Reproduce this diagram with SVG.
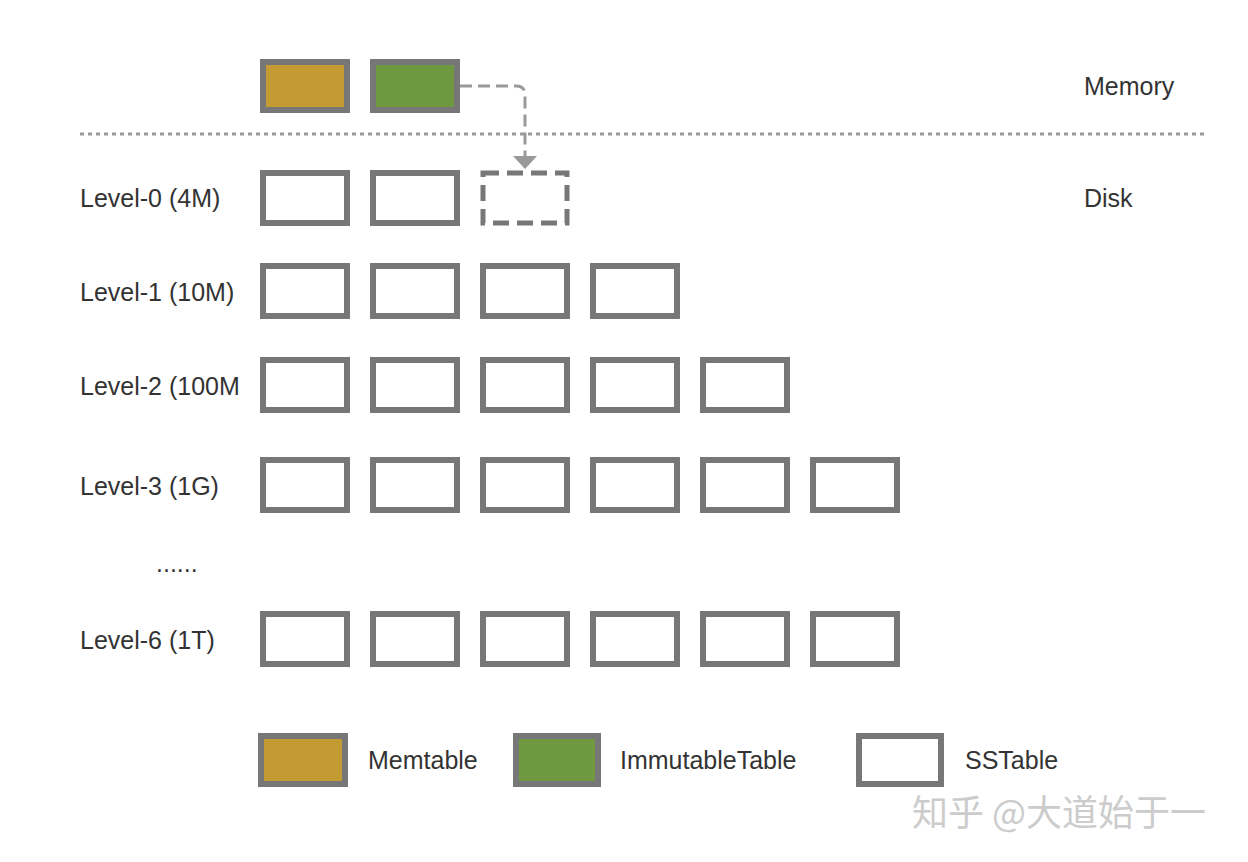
<svg xmlns="http://www.w3.org/2000/svg" width="1248" height="862" viewBox="0 0 1248 862">
<style>
.b{fill:#fff;stroke:#777;stroke-width:6}
.m{fill:#c49a33;stroke:#777;stroke-width:6}
.i{fill:#6f9940;stroke:#777;stroke-width:6}
text{font-family:"Liberation Sans",Arial,sans-serif;font-size:25px;fill:#333}
</style>
<defs><marker id="ah" markerWidth="8" markerHeight="6" refX="4" refY="0" orient="auto" markerUnits="userSpaceOnUse" viewBox="0 0 8 6"><path d="M0,0 L8,0 L4,6 z" fill="#999"/></marker></defs>
<rect width="1248" height="862" fill="#fff"/>
<g id="memory">
<rect class="m" x="263" y="62" width="84" height="48"/>
<rect class="i" x="373" y="62" width="84" height="48"/>
<text x="1084" y="95">Memory</text>
</g>
<line x1="80" y1="134" x2="1205" y2="134" stroke="#999" stroke-width="3" stroke-dasharray="4,4"/>
<text x="1084" y="207">Disk</text>
<g id="connectors">
<path d="M460,86 H516 Q525,86 525,95 V156" fill="none" stroke="#999" stroke-width="3" stroke-dasharray="12,6"/>
<path d="M513,156 L537,156 L525,169 z" fill="#999"/>
</g>
<g id="level0">
<text x="80" y="207">Level-0 (4M)</text>
<rect class="b" x="263" y="173" width="84" height="50"/>
<rect class="b" x="373" y="173" width="84" height="50"/>
<rect x="483" y="173" width="84" height="50" fill="#fff" stroke="#777" stroke-width="5" stroke-dasharray="16,8"/>
</g>
<g id="level1">
<text x="80" y="301">Level-1 (10M)</text>
<rect class="b" x="263" y="266" width="84" height="50"/>
<rect class="b" x="373" y="266" width="84" height="50"/>
<rect class="b" x="483" y="266" width="84" height="50"/>
<rect class="b" x="593" y="266" width="84" height="50"/>
</g>
<g id="level2">
<text x="80" y="395">Level-2 (100M</text>
<rect class="b" x="263" y="360" width="84" height="50"/>
<rect class="b" x="373" y="360" width="84" height="50"/>
<rect class="b" x="483" y="360" width="84" height="50"/>
<rect class="b" x="593" y="360" width="84" height="50"/>
<rect class="b" x="703" y="360" width="84" height="50"/>
</g>
<g id="level3">
<text x="80" y="495">Level-3 (1G)</text>
<rect class="b" x="263" y="460" width="84" height="50"/>
<rect class="b" x="373" y="460" width="84" height="50"/>
<rect class="b" x="483" y="460" width="84" height="50"/>
<rect class="b" x="593" y="460" width="84" height="50"/>
<rect class="b" x="703" y="460" width="84" height="50"/>
<rect class="b" x="813" y="460" width="84" height="50"/>
</g>
<text x="156" y="572">......</text>
<g id="level6">
<text x="80" y="649">Level-6 (1T)</text>
<rect class="b" x="263" y="614" width="84" height="50"/>
<rect class="b" x="373" y="614" width="84" height="50"/>
<rect class="b" x="483" y="614" width="84" height="50"/>
<rect class="b" x="593" y="614" width="84" height="50"/>
<rect class="b" x="703" y="614" width="84" height="50"/>
<rect class="b" x="813" y="614" width="84" height="50"/>
</g>
<g id="legend">
<rect class="m" x="261" y="736" width="84" height="48"/>
<text x="368" y="769">Memtable</text>
<rect class="i" x="516" y="736" width="82" height="48"/>
<text x="620" y="769">ImmutableTable</text>
<rect class="b" x="859" y="736" width="82" height="48"/>
<text x="965" y="769">SSTable</text>
</g>
<text x="912" y="826" style="font-family:'Noto Sans CJK SC',sans-serif;font-size:36px;fill:#ccc">知乎 @大道始于一</text>
</svg>
